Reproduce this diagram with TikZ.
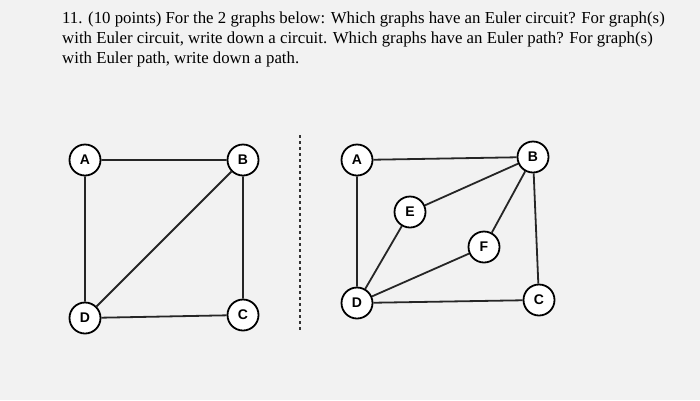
\documentclass[tikz,border=0pt]{standalone}
\usepackage{fontspec}
\setmainfont{Liberation Serif}
\newfontfamily\lab{Liberation Sans}
\begin{document}
\begin{tikzpicture}[x=1pt,y=-1pt,
  v/.style={circle,draw=black,line width=1.8pt,fill=white,minimum size=31pt,inner sep=0pt,font=\lab\bfseries\fontsize{14}{14}\selectfont},
  e/.style={line width=1.8pt,draw=black!85}]
\fill[black!5] (0,0) rectangle (700,400);
\useasboundingbox (0,0) rectangle (700,400);
\node[anchor=north west,align=left,inner sep=0pt,font=\fontsize{16.8}{20}\selectfont] (q) at (62,12)
{11. (10 points) For the 2 graphs below: Which graphs have an Euler circuit? For graph(s)\\ with Euler circuit, write down a circuit. Which graphs have an Euler path? For graph(s)\\ with Euler path, write down a path.};
\node[v] (A1) at (85,160) {A};
\node[v] (B1) at (243,160) {B};
\node[v] (D1) at (85,318) {D};
\node[v] (C1) at (243,315) {C};
\draw[e] (A1)--(B1) (A1)--(D1) (B1)--(C1) (D1)--(C1) (D1)--(B1);
\node[v] (A2) at (357,160) {A};
\node[v] (B2) at (533,157) {B};
\node[v] (E2) at (410,212) {E};
\node[v] (F2) at (484,247) {F};
\node[v] (D2) at (357,303) {D};
\node[v] (C2) at (539,300) {C};
\draw[e] (A2)--(B2) (A2)--(D2) (D2)--(C2) (B2)--(C2) (B2)--(E2) (B2)--(F2) (E2)--(D2) (F2)--(D2);
\coordinate (t) at (300,135); \coordinate (b) at (300,330);
\draw[line width=1.5pt,dashed,black!80] (t)--(b);
\end{tikzpicture}
\end{document}
